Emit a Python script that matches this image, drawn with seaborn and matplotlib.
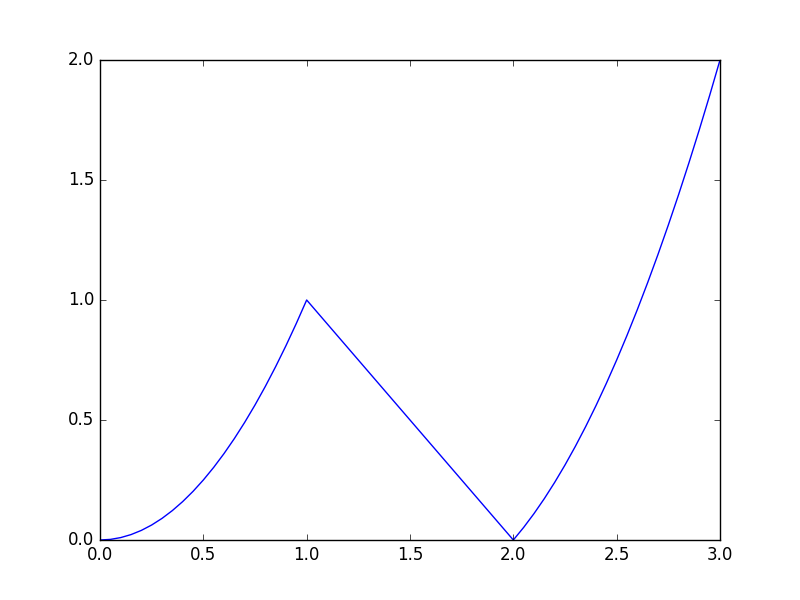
import numpy as np
import pandas as pd
import seaborn as sns
import matplotlib
matplotlib.use("Agg")
import matplotlib.pyplot as plt

# values, step 0.05 on the curved parts
x_vals = [0.0, 0.05, 0.1, 0.15, 0.2, 0.25, 0.3, 0.35, 0.4, 0.45, 0.5,
          0.55, 0.6, 0.65, 0.7, 0.75, 0.8, 0.85, 0.9, 0.95, 1.0,
          1.5, 2.0,
          2.05, 2.1, 2.15, 2.2, 2.25, 2.3, 2.35, 2.4, 2.45, 2.5,
          2.55, 2.6, 2.65, 2.7, 2.75, 2.8, 2.85, 2.9, 2.95, 3.0]
y_vals = [0.0, 0.0025, 0.01, 0.0225, 0.04, 0.0625, 0.09, 0.1225, 0.16, 0.2025, 0.25,
          0.3025, 0.36, 0.4225, 0.49, 0.5625, 0.64, 0.7225, 0.81, 0.9025, 1.0,
          0.5, 0.0,
          0.0525, 0.11, 0.1725, 0.24, 0.3125, 0.39, 0.4725, 0.56, 0.6525, 0.75,
          0.8525, 0.96, 1.0725, 1.19, 1.3125, 1.44, 1.5725, 1.71, 1.8525, 2.0]

df = pd.DataFrame({"x": x_vals, "y": y_vals})

plt.style.use("classic")
plt.rcParams["font.family"] = ["DejaVu Sans"]

fig, ax = plt.subplots(figsize=(8, 6), dpi=100)
fig.patch.set_facecolor("white")
fig.subplots_adjust(left=0.125, right=0.9, bottom=0.1, top=0.9)

sns.lineplot(data=df, x="x", y="y", color="blue", linewidth=1, ax=ax)

ax.set_xlim(0, 3)
ax.set_ylim(0, 2)
ax.set_xticks(np.arange(0, 3.01, 0.5))
ax.set_yticks(np.arange(0, 2.01, 0.5))
ax.set_xlabel("")
ax.set_ylabel("")

fig.savefig("out.png", dpi=100, facecolor="white")
